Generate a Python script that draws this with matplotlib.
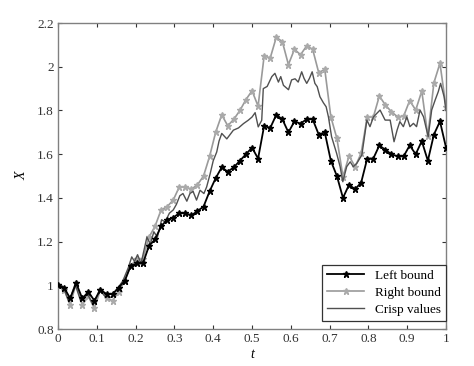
#!/usr/bin/env python3
"""Left/right bounds and crisp values of X over t."""

import numpy as np
import matplotlib
matplotlib.use("Agg")
import matplotlib.pyplot as plt

# bounds sampled on t = k/64
t_bounds = np.linspace(0, 1, 65)
left_bound = [
    1.00, 0.99, 0.94, 1.01, 0.94, 0.97, 0.93, 0.98, 0.96, 0.96,
    0.99, 1.02, 1.09, 1.10, 1.10, 1.18, 1.21, 1.27, 1.30, 1.31,
    1.33, 1.33, 1.32, 1.34, 1.36, 1.43, 1.49, 1.54, 1.52, 1.54,
    1.57, 1.60, 1.63, 1.58, 1.73, 1.72, 1.78, 1.76, 1.70, 1.75,
    1.74, 1.76, 1.76, 1.69, 1.70, 1.57, 1.50, 1.40, 1.46, 1.44,
    1.47, 1.58, 1.58, 1.64, 1.62, 1.60, 1.59, 1.59, 1.64, 1.60,
    1.66, 1.57, 1.69, 1.75, 1.63,
]
right_bound = [
    1.00, 0.98, 0.91, 1.01, 0.91, 0.95, 0.895, 0.98, 0.94, 0.93,
    0.97, 1.02, 1.09, 1.12, 1.12, 1.22, 1.27, 1.345, 1.36, 1.39,
    1.45, 1.45, 1.44, 1.46, 1.50, 1.59, 1.70, 1.78, 1.73, 1.76,
    1.80, 1.85, 1.89, 1.82, 2.05, 2.04, 2.135, 2.115, 2.01, 2.08,
    2.055, 2.095, 2.08, 1.973, 1.988, 1.771, 1.672, 1.497, 1.592, 1.543,
    1.604, 1.771, 1.769, 1.866, 1.825, 1.794, 1.771, 1.774, 1.845, 1.802,
    1.889, 1.683, 1.927, 2.016, 1.814,
]

# crisp values, read on a finer set of t
crisp_t = [
    0.0, 0.014, 0.028, 0.044, 0.059, 0.076, 0.091, 0.107, 0.121, 0.137,
    0.151, 0.167, 0.181, 0.19, 0.197, 0.205, 0.214, 0.229, 0.238, 0.247,
    0.256, 0.267, 0.276, 0.287, 0.297, 0.305, 0.314, 0.322, 0.332, 0.34,
    0.348, 0.357, 0.366, 0.376, 0.383, 0.392, 0.40, 0.409, 0.415, 0.422,
    0.435, 0.452, 0.465, 0.478, 0.49, 0.50, 0.508, 0.516, 0.525, 0.529,
    0.539, 0.551, 0.559, 0.568, 0.574, 0.581, 0.594, 0.602, 0.611, 0.619,
    0.628, 0.634, 0.641, 0.648, 0.655, 0.662, 0.668, 0.675, 0.684, 0.691,
    0.697, 0.705, 0.718, 0.727, 0.734, 0.744, 0.753, 0.761, 0.77, 0.783,
    0.796, 0.804, 0.813, 0.83, 0.843, 0.856, 0.866, 0.874, 0.881, 0.89,
    0.899, 0.907, 0.916, 0.924, 0.933, 0.942, 0.954, 0.963, 0.972, 0.98,
    0.986, 0.995, 1.0,
]
crisp_x = [
    1.0, 0.99, 0.925, 1.005, 0.925, 0.96, 0.91, 0.98, 0.95, 0.945,
    0.98, 1.02, 1.08, 1.13, 1.11, 1.14, 1.10, 1.22, 1.19, 1.245,
    1.22, 1.30, 1.29, 1.33, 1.345, 1.37, 1.41, 1.42, 1.385, 1.42,
    1.43, 1.39, 1.435, 1.42, 1.45, 1.51, 1.57, 1.61, 1.66, 1.695,
    1.67, 1.71, 1.72, 1.74, 1.755, 1.77, 1.79, 1.725, 1.755, 1.90,
    1.91, 1.955, 1.97, 1.93, 1.955, 1.915, 1.895, 1.94, 1.945, 1.93,
    1.977, 1.947, 1.924, 1.947, 1.977, 1.924, 1.909, 1.863, 1.835, 1.817,
    1.77, 1.68, 1.604, 1.543, 1.474, 1.543, 1.565, 1.543, 1.558, 1.596,
    1.756, 1.726, 1.771, 1.802, 1.756, 1.756, 1.657, 1.711, 1.749, 1.726,
    1.771, 1.726, 1.741, 1.726, 1.802, 1.771, 1.68, 1.802, 1.848, 1.886,
    1.924, 1.863, 1.80,
]

plt.rcParams["font.family"] = ["Liberation Serif", "DejaVu Serif"]

fig = plt.figure(figsize=(4.74, 3.66), dpi=100)
ax = fig.add_axes([0.1224, 0.101, 0.8186, 0.836])

ax.plot(t_bounds, left_bound, "-*", color="black", linewidth=1.3,
        markersize=4.5, label="Left bound", zorder=3)
ax.plot(t_bounds, right_bound, "-*", color="#9a9a9a", markeredgecolor="#aaaaaa",
        markerfacecolor="#aaaaaa", linewidth=1.2, markersize=4.5,
        label="Right bound", zorder=2)
ax.plot(crisp_t, crisp_x, "-", color="#505050", linewidth=1.0,
        label="Crisp values", zorder=2)

ax.set_xlim(0, 1)
ax.set_ylim(0.8, 2.2)
ax.set_xticks(np.arange(0, 1.01, 0.1))
ax.set_xticklabels(["0", "0.1", "0.2", "0.3", "0.4", "0.5", "0.6",
                    "0.7", "0.8", "0.9", "1"])
ax.set_yticks(np.arange(0.8, 2.21, 0.2))
ax.set_yticklabels(["0.8", "1", "1.2", "1.4", "1.6", "1.8", "2", "2.2"])
ax.tick_params(direction="in", length=3, labelsize=9.5, colors="#333333",
               top=True, right=True, pad=3)
for s in ax.spines.values():
    s.set_color("#808080")
    s.set_linewidth(1.0)

ax.set_xlabel("t", fontstyle="italic", fontsize=10, labelpad=2)
ax.set_ylabel("X", fontstyle="italic", fontsize=10, labelpad=6)

leg = ax.legend(loc="lower right", bbox_to_anchor=(1.0, 0.026), borderaxespad=0,
                fontsize=9.5, fancybox=False, framealpha=1, edgecolor="#333333",
                handlelength=2.8, labelspacing=0.35)
leg.get_frame().set_linewidth(0.9)

fig.savefig("out.png", dpi=100)
